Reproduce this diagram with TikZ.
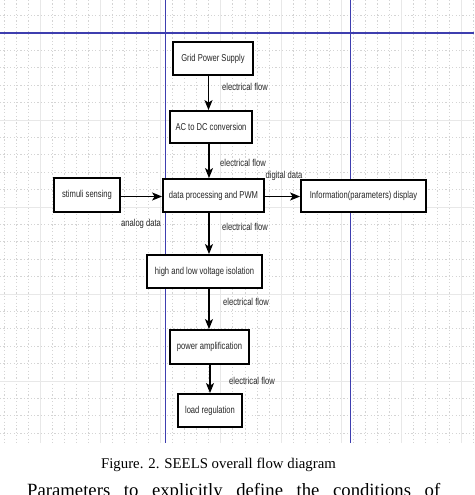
\documentclass[tikz,border=0pt]{standalone}
\usepackage{fontspec}
\setmainfont{Liberation Serif}
\newfontfamily\dfont[FakeStretch=0.76]{Liberation Sans}
\usetikzlibrary{arrows.meta}
\definecolor{laneblue}{RGB}{62,62,175}
\definecolor{gridminor}{RGB}{212,212,212}
\definecolor{gridmajor}{RGB}{232,232,232}
\tikzset{
  minorgrid/.style={gridminor, line width=0.7pt, dash pattern=on 1.2pt off 2.2pt},
  majorgrid/.style={gridmajor, line width=0.9pt},
  lane/.style={laneblue, line width=1pt},
  blockbox/.style={draw=black, fill=white, line width=1.8pt, inner sep=0pt,
    font=\dfont\fontsize{10}{12}\selectfont, text=black!85},
  flowarrow/.style={line width=1.5pt, -{Stealth[length=10pt,width=8pt,inset=2.5pt]}},
  flowlabel/.style={font=\dfont\fontsize{10}{12}\selectfont, text=black!85, inner sep=0pt}
}
\begin{document}
\begin{tikzpicture}[x=1pt,y=-1pt]
\useasboundingbox (0,0) rectangle (474,495);
\fill[white] (0,0) rectangle (474,495);
% grid
\foreach \i in {-3,...,36} \draw[minorgrid] ({40+12.05*\i},0) -- ({40+12.05*\i},443);
\foreach \j in {-1,...,23} \draw[minorgrid] (0,{33+17.4*\j}) -- (474,{33+17.4*\j});
\foreach \i in {0,...,7} \draw[majorgrid] ({40+60.25*\i},0) -- ({40+60.25*\i},443);
\foreach \j in {1,...,4} \draw[majorgrid] (0,{33+87*\j}) -- (474,{33+87*\j});
% lanes
\draw[lane, line width=1.6pt] (0,33) -- (474,33);
\draw[lane] (165,0) -- (165,443);
\draw[lane] (350,0) -- (350,443);
% blocks
\node[blockbox, minimum width=80pt, minimum height=33pt] (gps) at (213,58.5) {Grid Power Supply};
\node[blockbox, minimum width=82pt, minimum height=32pt] (acdc) at (211,127) {AC to DC conversion};
\node[blockbox, minimum width=66pt, minimum height=34pt] (stim) at (87,195) {stimuli sensing};
\node[blockbox, minimum width=101pt, minimum height=33pt] (dp) at (213.5,195.5) {data processing and PWM};
\node[blockbox, minimum width=125pt, minimum height=32pt] (info) at (363.5,196) {Information(parameters) display};
\node[blockbox, minimum width=115pt, minimum height=33pt] (hlv) at (204.5,271.5) {high and low voltage isolation};
\node[blockbox, minimum width=79pt, minimum height=34pt] (pa) at (209.5,347) {power amplification};
\node[blockbox, minimum width=64pt, minimum height=33pt] (lr) at (210,410.5) {load regulation};
% spine coordinates
\coordinate (s1) at (208.5,0);
\coordinate (s2) at (209,0);
\coordinate (s3) at (210,0);
\coordinate (h1) at (0,196.5);
% connectors
\draw[flowarrow] (gps.south -| s1) -- (acdc.north -| s1);
\draw[flowarrow] (acdc.south -| s2) -- (dp.north -| s2);
\draw[flowarrow] (dp.south -| s2) -- (hlv.north -| s2);
\draw[flowarrow] (hlv.south -| s2) -- (pa.north -| s2);
\draw[flowarrow] (pa.south -| s3) -- (lr.north -| s3);
\draw[flowarrow] (stim.east |- h1) -- (dp.west |- h1);
\draw[flowarrow] (dp.east |- h1) -- (info.west |- h1);
% labels
\node[flowlabel] (l1) at (245,87) {electrical flow};
\node[flowlabel] (l2) at (243,163) {electrical flow};
\node[flowlabel] (l3) at (284,176) {digital data};
\node[flowlabel] (l4) at (141,224) {analog data};
\node[flowlabel] (l5) at (245,227) {electrical flow};
\node[flowlabel] (l6) at (246,302) {electrical flow};
\node[flowlabel] (l7) at (252,381) {electrical flow};
% caption
\node[anchor=base, inner sep=0pt, font=\fontsize{14.8}{17}\selectfont] (cap) at (218.5,468) {Figure. 2. SEELS overall flow diagram};
\node[anchor=base west, inner sep=0pt, font=\fontsize{18.7}{22}\selectfont] (body) at (27,496.5) {\makebox[413pt][s]{Parameters to explicitly define the conditions of}};
\end{tikzpicture}
\end{document}
